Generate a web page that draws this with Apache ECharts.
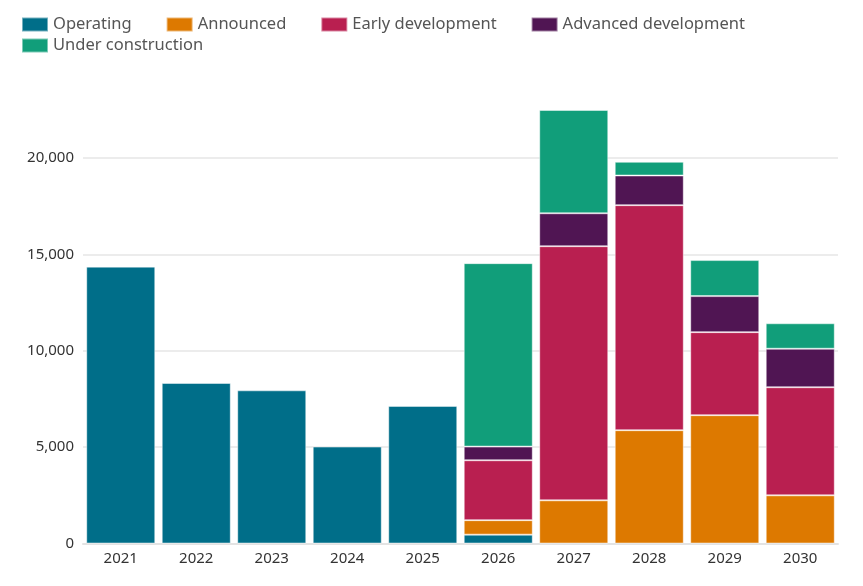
<!DOCTYPE html>
<html>
<head>
<meta charset="utf-8">
<script src="https://cdn.jsdelivr.net/npm/echarts@6/dist/echarts.min.js"></script>
<style>
  html, body { margin: 0; padding: 0; background: #fff; }
  #chart { width: 863px; height: 586px; }
</style>
</head>
<body>
<div id="chart"></div>
<script>
// years on the x axis
const years = ['2021', '2022', '2023', '2024', '2025', '2026', '2027', '2028', '2029', '2030'];

// stacked values per status
const operating = [14370, 8330, 7950, 5030, 7140, 460, 0, 0, 0, 0];
const announced = [0, 0, 0, 0, 0, 750, 2240, 5880, 6660, 2500];
const earlyDev = [0, 0, 0, 0, 0, 3110, 13190, 11680, 4310, 5610];
const advancedDev = [0, 0, 0, 0, 0, 710, 1710, 1540, 1870, 2000];
const underConstruction = [0, 0, 0, 0, 0, 9520, 5360, 710, 1870, 1320];

const seriesNames = ['Operating', 'Announced', 'Early development', 'Advanced development', 'Under construction'];
const seriesColors = ['#006e89', '#dd7900', '#b91f50', '#501553', '#119e7a'];
const seriesData = [operating, announced, earlyDev, advancedDev, underConstruction];

const fontFamily = '"Noto Sans", sans-serif';

const chart = echarts.init(document.getElementById('chart'));

const series = seriesNames.map(function (name, i) {
  return {
    name: name,
    type: 'bar',
    stack: 'total',
    barCategoryGap: '8.6%',
    itemStyle: {
      color: seriesColors[i],
      borderColor: 'rgba(255,255,255,0.45)',
      borderWidth: 1
    },
    data: seriesData[i].map(function (v) { return v === 0 ? null : v; })
  };
});

// legend split in two rows by hand, the wrap gap of one legend is too wide
function legendRow(names, top) {
  return {
    left: 21,
    top: top,
    padding: 0,
    itemWidth: 26,
    itemHeight: 14,
    itemGap: 34,
    icon: 'rect',
    textStyle: { fontSize: 16.5, color: '#555', fontFamily: fontFamily, padding: [0, 0, 0, 0] },
    data: names
  };
}

chart.setOption({
  animation: false,
  textStyle: { fontFamily: fontFamily },
  legend: [
    legendRow(seriesNames.slice(0, 4), 16),
    legendRow(seriesNames.slice(4), 37)
  ],
  grid: {
    left: 83,
    right: 25,
    top: 110,
    bottom: 42.5,
    containLabel: false
  },
  xAxis: {
    type: 'category',
    data: years,
    axisLine: { show: true, lineStyle: { color: '#e3e3e3', width: 2 } },
    axisTick: { show: false },
    axisLabel: { color: '#333', fontSize: 15, margin: 8, fontFamily: fontFamily }
  },
  yAxis: {
    type: 'value',
    min: 0,
    max: 22500,
    interval: 5000,
    axisLine: { show: false },
    axisTick: { show: false },
    axisLabel: {
      color: '#333',
      fontSize: 15,
      margin: 9,
      showMaxLabel: false,
      fontFamily: fontFamily,
      formatter: function (v) { return v.toLocaleString('en-US'); }
    },
    splitLine: { show: true, showMaxLine: false, lineStyle: { color: '#e6e6e6', width: 1.5 } }
  },
  series: series
});
</script>
</body>
</html>
